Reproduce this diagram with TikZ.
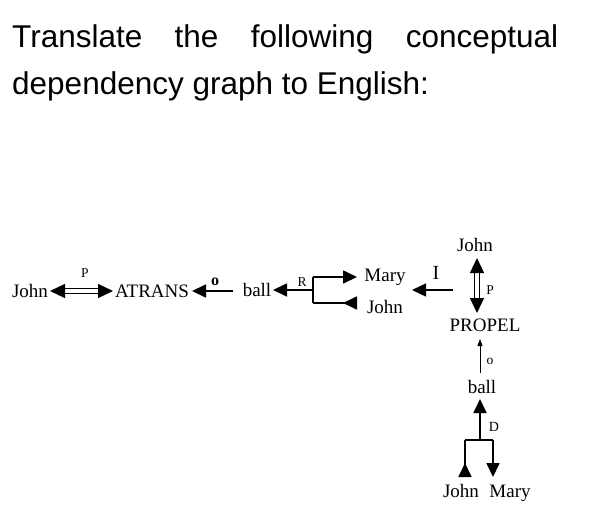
\documentclass[tikz,border=0pt]{standalone}
\usepackage{fontspec}
\setmainfont{Liberation Serif}
\newfontfamily\headfont{Liberation Sans}
\usetikzlibrary{arrows.meta}
\tikzset{
  cd/.style={inner sep=0pt, anchor=base, font=\fontsize{19}{21}\selectfont},
  lbl/.style={inner sep=0pt, anchor=base, font=\fontsize{13.5}{15}\selectfont},
  head/.style={inner sep=0pt, anchor=base west, font=\headfont\fontsize{31.5}{36}\selectfont},
  big/.style={-{Triangle[length=14pt,width=13pt]}, line width=1.7pt},
  bigrev/.style={-{Triangle[length=14pt,width=13pt,reversed]}, line width=1.7pt},
  thin/.style={-{Triangle[length=7pt,width=5pt]}, line width=0.9pt},
  dbl/.style={{Triangle[length=15pt,width=14pt]}-{Triangle[length=15pt,width=14pt]}, double, double distance=3.5pt, line width=1.1pt},
  barline/.style={line width=1.9pt},
}
\begin{document}
\begin{tikzpicture}[x=1pt,y=-1pt]
\useasboundingbox (0,0) rectangle (592,530);
\fill[white] (0,0) rectangle (592,530);
% heading
\node[head] (h1) at (12,47) {\makebox[546pt][s]{Translate the following conceptual}};
\node[head] (h2) at (12,94) {dependency graph to English:};
% nodes
\node[cd] (johnL) at (30,297) {John};
\node[cd] (atrans) at (152,297) {ATRANS};
\node[cd] (ball1) at (257,296) {ball};
\node[cd] (mary) at (385,281) {Mary};
\node[cd] (john2) at (385,313) {John};
\node[cd] (johnT) at (475,251) {John};
\node[cd] (propel) at (485,331) {PROPEL};
\node[cd] (ball2) at (482,393) {ball};
\node[cd] (john3) at (461,497) {John};
\node[cd] (mary3) at (510,497) {Mary};
% coordinates
\coordinate (pA) at (50,291);
\coordinate (pB) at (113,291);
\coordinate (oA) at (233,291);
\coordinate (oB) at (192,291);
\coordinate (rc) at (313,290);
\coordinate (rT) at (313,277);
\coordinate (rB) at (313,303);
\coordinate (rTe) at (357,277);
\coordinate (rBe) at (357,303);
\coordinate (rE) at (273,290);
\coordinate (iA) at (453,290);
\coordinate (iB) at (412,290);
\coordinate (vA) at (477,258);
\coordinate (vB) at (477,313);
\coordinate (tA) at (480,373);
\coordinate (tB) at (480,339);
\coordinate (dC) at (480,440);
\coordinate (dT) at (480,399);
\coordinate (dL) at (465,440);
\coordinate (dR) at (493,440);
\coordinate (dLe) at (465,477);
\coordinate (dRe) at (493,477);
% connectors
\draw[dbl] (pA) -- (pB);
\node[lbl] (lp1) at (85,277) {P};
\draw[big] (oA) -- (oB);
\node[inner sep=0pt, anchor=base, font=\bfseries\fontsize{16}{18}\selectfont] (lo1) at (215,285) {o};
\draw[big] (rc) -- (rE);
\draw[barline] (rT) -- (rB);
\draw[big] (rT) -- (rTe);
\draw[bigrev] (rB) -- (rBe);
\node[lbl] (lr) at (302,286) {R};
\draw[big, line width=1.5pt] (iA) -- (iB);
\node[inner sep=0pt, anchor=base, font=\fontsize{20}{22}\selectfont] (li) at (436,279) {I};
\draw[dbl] (vA) -- (vB);
\node[lbl] (lp2) at (490,294) {P};
\draw[thin] (tA) -- (tB);
\node[lbl] (lo2) at (490,364) {o};
\draw[big] (dC) -- (dT);
\draw[barline] (dL) -- (dR);
\draw[bigrev] (dL) -- (dLe);
\draw[big] (dR) -- (dRe);
\node[inner sep=0pt, anchor=base, font=\fontsize{14}{16}\selectfont] (ld) at (494,431) {D};
\end{tikzpicture}
\end{document}
